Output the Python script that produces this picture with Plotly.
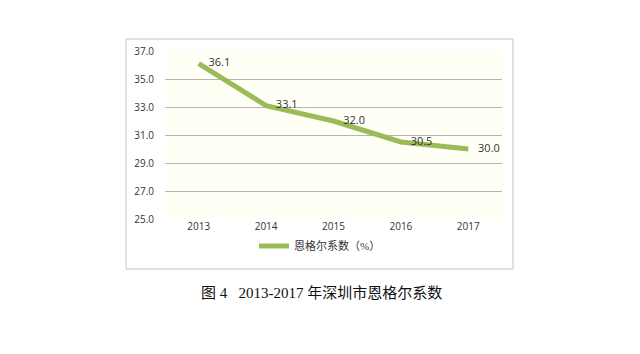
import plotly.graph_objects as go

years = ["2013", "2014", "2015", "2016", "2017"]
engel = [36.1, 33.1, 32.0, 30.5, 30.0]
y_ticks = [25.0, 27.0, 29.0, 31.0, 33.0, 35.0, 37.0]
series_name = "恩格尔系数（%）"
caption = "图 4   2013-2017 年深圳市恩格尔系数"

fig = go.Figure()
fig.add_trace(go.Scatter(
    x=years, y=engel, mode="lines+markers+text", name=series_name,
    line=dict(color="#9bbb59", width=5),
    marker=dict(size=14, color="rgba(0,0,0,0)", line=dict(width=0)),
    text=[f"{v:.1f}" for v in engel], textposition="middle right",
    textfont=dict(family="Open Sans, sans-serif", size=11, color="#333333"),
    cliponaxis=False, showlegend=True,
))

fig.update_layout(
    width=640, height=354,
    margin=dict(l=165, r=138, t=51, b=135, autoexpand=False),
    paper_bgcolor="white", plot_bgcolor="#fffff5",
    xaxis=dict(type="category", range=[-0.5, 4.5], showgrid=False, showline=False, ticks="",
               automargin=False,
               tickfont=dict(family="Open Sans, sans-serif", size=10, color="#333333")),
    yaxis=dict(range=[25, 37], tickvals=y_ticks, ticktext=[f"{v:.1f}" for v in y_ticks],
               showgrid=True, gridcolor="#b4b4b4", gridwidth=1, zeroline=False,
               showline=False, ticks="", ticklabelstandoff=10, automargin=False,
               tickfont=dict(family="Open Sans, sans-serif", size=10, color="#333333")),
    legend=dict(orientation="h", xref="container", yref="container", x=0.5, xanchor="center",
                y=0.305, yanchor="middle", bgcolor="rgba(0,0,0,0)",
                font=dict(family="Liberation Serif, Noto Sans CJK SC", size=11, color="#333333")),
    shapes=[dict(type="rect", xref="paper", yref="paper",
                 x0=-0.1157, x1=1.0326, y0=-0.2976, y1=1.0714,
                 line=dict(color="#c4c4c4", width=1), layer="below")],
    annotations=[dict(text=caption, xref="paper", yref="paper",
                      x=(321 - 165) / 337, y=(219 - 293) / 168,
                      xanchor="center", yanchor="middle", showarrow=False,
                      font=dict(family="Liberation Serif, Noto Sans CJK SC", size=15, color="#111111"))],
)

fig.write_html("out.html")
